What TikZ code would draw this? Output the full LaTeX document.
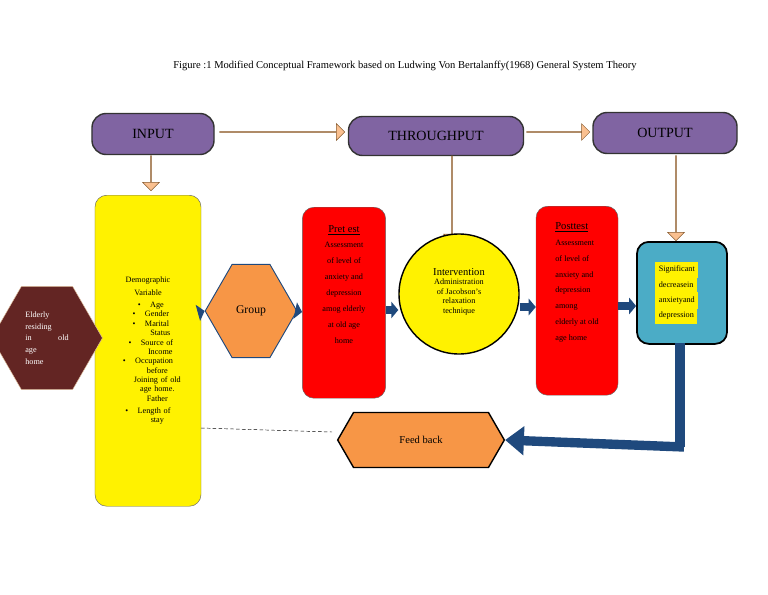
\documentclass[tikz,border=0pt]{standalone}
\usepackage{fontspec}
\setmainfont{Liberation Serif}
\usetikzlibrary{shapes.symbols,shapes.arrows,arrows.meta}
\definecolor{purp}{HTML}{8064A2}
\definecolor{peach}{HTML}{FAC090}
\definecolor{navy}{HTML}{1F497D}
\definecolor{brownish}{HTML}{632523}
\definecolor{orng}{HTML}{F79646}
\definecolor{aqua}{HTML}{4BACC6}
\begin{document}
\begin{tikzpicture}[x=0.03cm, y=-0.03cm,
  stage/.style = {draw=black!80, very thick, fill=purp, rounded corners=12pt, font=\large},
  box/.style = {draw=black!60, rounded corners=10pt, align=center, font=\scriptsize, inner sep=2pt},
  hexa/.style = {signal, signal to=west and east, signal pointer angle=120, align=center},
  peacharrow/.style = {single arrow, draw=brown!70!black, fill=peach, single arrow head extend=4pt, inner sep=0pt},
  link/.style = {navy, line width=6pt, -{Triangle[length=6pt,width=14pt]}}]
\useasboundingbox (0,0) rectangle (768,594);
\node at (405,66) {\small Figure :1 Modified Conceptual Framework based on Ludwing Von Bertalanffy(1968) General System Theory};
% top row
\node[stage, minimum width=3.66cm, minimum height=1.23cm] (input) at (153,134) {INPUT};
\node[stage, minimum width=5.25cm, minimum height=1.17cm] (through) at (436,136) {THROUGHPUT};
\node[stage, minimum width=4.32cm, minimum height=1.23cm] (output) at (665,133) {OUTPUT};
\node[peacharrow, minimum width=0.5cm, minimum height=3.75cm] (a1) at (282,132) {};
\node[peacharrow, minimum width=0.5cm, minimum height=1.9cm] (a2) at (558,132) {};
\node[peacharrow, rotate=-90, minimum width=0.5cm, minimum height=1.05cm] (a3) at (151,173) {};
\node[peacharrow, rotate=-90, minimum width=0.5cm, minimum height=2.6cm] (a4) at (452,199) {};
\node[peacharrow, rotate=-90, minimum width=0.5cm, minimum height=2.55cm] (a5) at (676,198) {};
% boxes
\node[box, fill=yellow, minimum width=3.18cm, minimum height=9.33cm, anchor=north, text width=2.9cm, align=left] (demo) at (148,195)
  {\centering Demographic\\[3pt] Variable\\[2pt]
   \hspace*{5pt}\textbullet\hspace{8pt}Age\\
   \hspace*{5pt}\textbullet\hspace{8pt}Gender\\
   \hspace*{5pt}\textbullet\hspace{8pt}Marital\\ \hspace*{21pt}Status\\
   \hspace*{5pt}\textbullet\hspace{8pt}Source of\\ \hspace*{21pt}Income\\
   \textbullet\hspace{8pt}Occupation\\ \hspace*{16pt}before\\ \hspace*{16pt}Joining of old\\ \hspace*{16pt}age home.\\ \hspace*{16pt}Father\\[2pt]
   \textbullet\hspace{8pt}Length of\\ \hspace*{16pt}stay\par\vspace{2.3cm}};
\node[hexa, draw=brown!50, fill=brownish, text=white, minimum width=2.55cm, minimum height=3.1cm, font=\scriptsize, align=justify, text width=1.3cm] (elder) at (47,338)
  {Elderly\\[2pt] residing\\[2pt] in\hfill old\\[2pt] age\\[2pt] home};
\node[hexa, draw=navy, thick, fill=orng, minimum width=2.05cm, minimum height=2.8cm] (group) at (251,311) {Group};
\node[box, fill=red, minimum width=2.5cm, minimum height=5.73cm, font=\scriptsize\linespread{1.7}\selectfont, anchor=north] (pre) at (344,207)
  {\small\underline{Pret est}\\ Assessment\\ of level of\\ anxiety and\\ depression\\ amog elderly\\ at old age\\ home\par\vspace{1.1cm}};
\node[draw, very thick, circle, fill=yellow, minimum size=3.6cm, align=center, font=\scriptsize, inner sep=0pt] (interv) at (459,294)
  {{\small Intervention}\\ Administration\\ of Jacobson's\\ relaxation\\ technique\par\vspace{4pt}};
\node[box, fill=red, minimum width=2.46cm, minimum height=5.67cm, font=\scriptsize\linespread{1.7}\selectfont, anchor=north, align=left] (post) at (577,206)
  {\small\underline{Posttest}\\ Assessment\\ of level of\\ anxiety and\\ depression\\ among\\ elderly at old\\ age home\par\vspace{1.1cm}};
\node[box, fill=aqua, draw=black, line width=1.5pt, minimum width=2.7cm, minimum height=3.06cm, anchor=north, text width=1.6cm, align=justify] (result) at (682,241)
  {\colorbox{yellow}{\strut Significant}\\[-2pt] \colorbox{yellow}{\strut decrease\hfill in}\\[-2pt] \colorbox{yellow}{\strut anxiety\hfill and}\\[-2pt] \colorbox{yellow}{\strut depression}\par\vspace{1.2cm}};
\node[hexa, draw=black, very thick, fill=orng, minimum width=5cm, minimum height=1.65cm, font=\small] (feed) at (421,440) {Feed back};
% links
\draw[link] (201,312) -- (group.west);
\draw[link] (group.east) -- (pre.west |- 0,312);
\draw[link] (pre.east |- 0,310) -- (interv.west |- 0,310);
\draw[link] (interv.east |- 0,307) -- (post.west |- 0,307);
\draw[link] (post.east |- 0,306) -- (result.west |- 0,306);
\draw[navy, line width=8pt] (680,343) -- (680,447);
\draw[navy, line width=8pt, -{Triangle[length=16pt,width=24pt]}] (684,447) -- (feed.east);
\draw[densely dashed, thin] (201,428) -- (332,432);
\end{tikzpicture}
\end{document}
